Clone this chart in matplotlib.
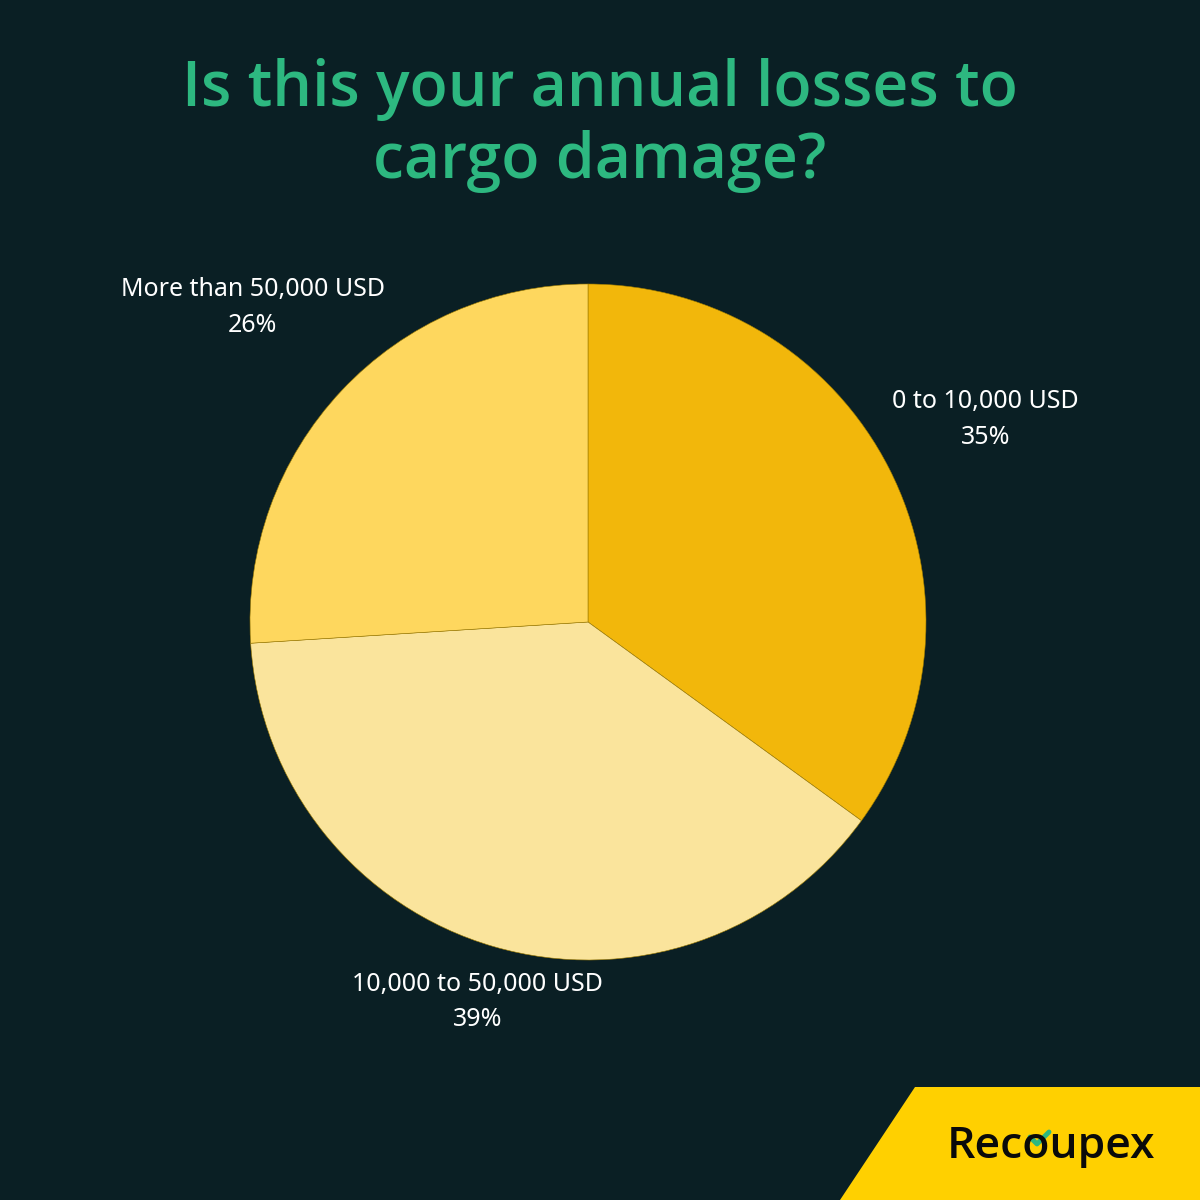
import matplotlib.pyplot as plt
from matplotlib.patches import Polygon
import numpy as np

# data
categories = ["0 to 10,000 USD", "10,000 to 50,000 USD", "More than 50,000 USD"]
shares = [35, 39, 26]
colours = ["#F2B70B", "#FAE49C", "#FED75E"]
label_dist = [1.32, 1.17, 1.36]

bg = "#0A1F24"
green = "#2DB880"

fig = plt.figure(figsize=(12, 12), dpi=100, facecolor=bg)

# title
fig.text(0.5, 0.952, "Is this your annual losses to\ncargo damage?", ha="center", va="top",
         fontsize=45, color=green, fontweight="semibold", family=["Open Sans", "DejaVu Sans"],
         linespacing=1.2)

# pie area: centre (588,622) px, radius 338 px
cx, cy, r = 588, 622, 338
ax = fig.add_axes([(cx - r) / 1200, (1200 - cy - r) / 1200, 2 * r / 1200, 2 * r / 1200])
ax.set_facecolor(bg)
wedges, _ = ax.pie(shares, colors=colours, startangle=90, counterclock=False,
                   wedgeprops=dict(edgecolor="#9c7a00", linewidth=0.4))
ax.set_xlim(-1, 1)
ax.set_ylim(-1, 1)
ax.set_aspect("equal")
ax.axis("off")

for w, cat, val, d in zip(wedges, categories, shares, label_dist):
    mid = np.deg2rad((w.theta1 + w.theta2) / 2)
    ax.text(d * np.cos(mid), d * np.sin(mid), f"{cat}\n{val}%", ha="center", va="center",
            fontsize=18, color="white", family="Noto Sans",
            linespacing=1.55, clip_on=False)

# logo badge bottom right
badge = Polygon([[915 / 1200, 113 / 1200], [1, 113 / 1200], [1, 0], [840 / 1200, 0]],
                closed=True, transform=fig.transFigure, facecolor="#FFD000", edgecolor="none")
fig.patches.append(badge)
fig.text(1051 / 1200, 1 - 1146 / 1200, "Recoupex", ha="center", va="center",
         fontsize=32, color="#0A0A0A", family=["Open Sans", "DejaVu Sans"], fontweight="semibold")
fig.lines.append(plt.Line2D([1030 / 1200, 1037 / 1200, 1049 / 1200],
                            [1 - 1137 / 1200, 1 - 1144 / 1200, 1 - 1132 / 1200],
                            transform=fig.transFigure, color=green, linewidth=3.5,
                            solid_capstyle="round"))

fig.savefig("out.png", dpi=100, facecolor=bg)
